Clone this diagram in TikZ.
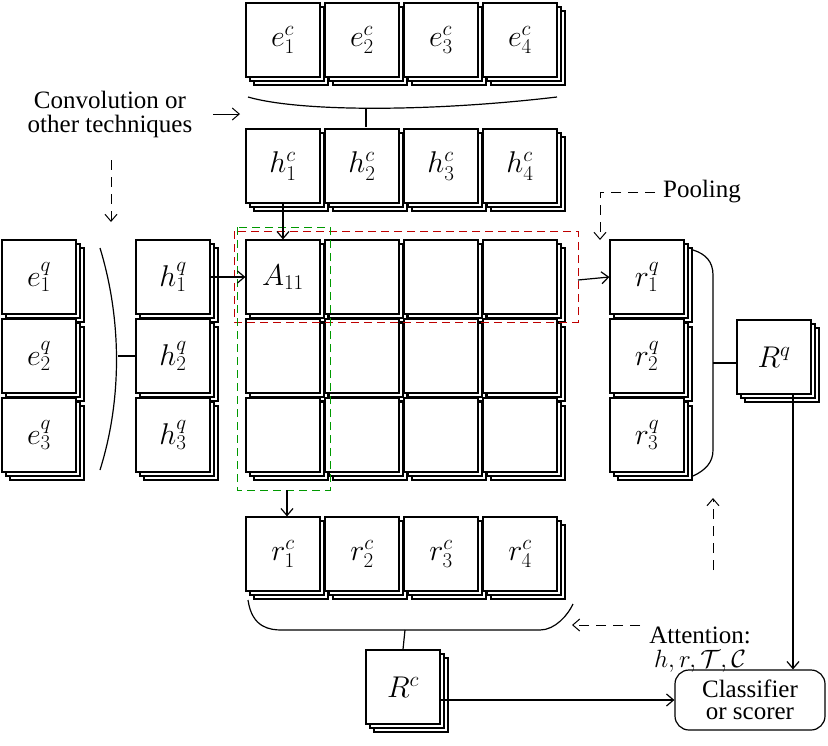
\RequirePackage{fix-cm}
\documentclass[tikz,border=0pt]{standalone}
\usepackage{fontspec}
\setmainfont{Liberation Serif}
\usetikzlibrary{shadows,arrows.meta}
\begin{document}
\begin{tikzpicture}[x=1pt,y=-1pt,line width=1.2pt,
 bx/.style={draw,fill=white,minimum size=74pt,inner sep=0pt,font=\fontsize{30}{32}\selectfont,
   double copy shadow={shadow xshift=4pt,shadow yshift=-4pt}},
 ar/.style={-{Straight Barb[length=7pt,width=12pt]}},
 da/.style={ar,dash pattern=on 10pt off 7pt},
 lb/.style={font=\fontsize{25}{28}\selectfont,align=center}]
\useasboundingbox (0,0) rectangle (828,745);
\foreach \i/\x in {1/283,2/362,3/441,4/520}{
  \node[bx] (ec\i) at (\x,40) {$e^c_\i$};
  \node[bx] (hc\i) at (\x,166) {$h^c_\i$};
  \node[bx] (rc\i) at (\x,554) {$r^c_\i$};
}
\foreach \j/\y in {1/277,2/356,3/435}{
  \node[bx] (eq\j) at (39,\y) {$e^q_\j$};
  \node[bx] (hq\j) at (173,\y) {$h^q_\j$};
  \node[bx] (rq\j) at (647,\y) {$r^q_\j$};
  \foreach \i/\x in {1/283,2/362,3/441,4/520}{
    \node[bx] (a\j\i) at (\x,\y) {};
  }
}
\node[font=\fontsize{30}{32}\selectfont] at (a11) {$A_{11}$};
\node[bx] (Rq) at (774,357) {$R^q$};
\node[bx] (Rc) at (403,687) {$R^c$};
\node[draw,rounded corners=14pt,minimum width=150pt,minimum height=60pt,lb,inner sep=0pt] (cls) at (750,700) {Classifier\\[-6pt]or scorer};
\node[lb] (conv) at (110,114) {Convolution or\\[-4pt]other techniques};
\node[lb] (pool) at (702,192) {Pooling};
\node[lb] (att) at (700,650) {Attention:\\[-4pt]$h,r,\mathcal{T},\mathcal{C}$};
% braces
\draw (248,97) .. controls (300,112) and (430,112) .. (557,97);
\coordinate (bt) at (366,109);
\draw (bt) -- (366,127);
\draw (100,248) .. controls (122,320) and (122,400) .. (100,470);
\draw (118,356) -- (hq2.west);
\draw (248,600) .. controls (252,628) and (270,630) .. (282,630) -- (540,630) .. controls (555,630) and (568,615) .. (573,604);
\coordinate (bc) at (405,630);
\draw (bc) -- (Rc.north);
\draw (693,250) .. controls (706,254) and (713,262) .. (713,275) -- (713,450) .. controls (713,462) and (706,470) .. (693,476);
\coordinate (bq) at (713,363);
\draw (bq) -- (Rq.west|-bq);
% dashed rects
\draw[red!75!black,line width=1pt,dash pattern=on 8pt off 5pt] (234,231) rectangle (578,322);
\draw[green!60!black,line width=1pt,dash pattern=on 8pt off 5pt] (237,227) rectangle (330,490);
% arrows
\draw[ar] (hq1.east) -- (a11.west);
\draw[ar] (hc1.south) -- (a11.north);
\coordinate (gb) at (287,490);
\draw[ar] (gb) -- (rc1.north-|gb);
\coordinate (rr) at (578,280);
\draw[ar] (rr) -- (rq1.west);
\draw[ar] (Rc.east|-cls) -- (cls.west);
\draw[ar] (Rq.south-|793,0) -- (cls.north-|793,0);
\coordinate (c1) at (213,114);
\draw[ar,line width=1pt] (c1) -- (240,114);
\draw[da,line width=1pt] (111,160) -- (111,222);
\coordinate (p1) at (655,192);
\draw[da,line width=1pt] (p1) -- (600,192) -- (600,240);
\draw[da,line width=1pt] (713,570) -- (713,498);
\draw[da,line width=1pt] (640,625) -- (572,625);
\end{tikzpicture}
\end{document}
